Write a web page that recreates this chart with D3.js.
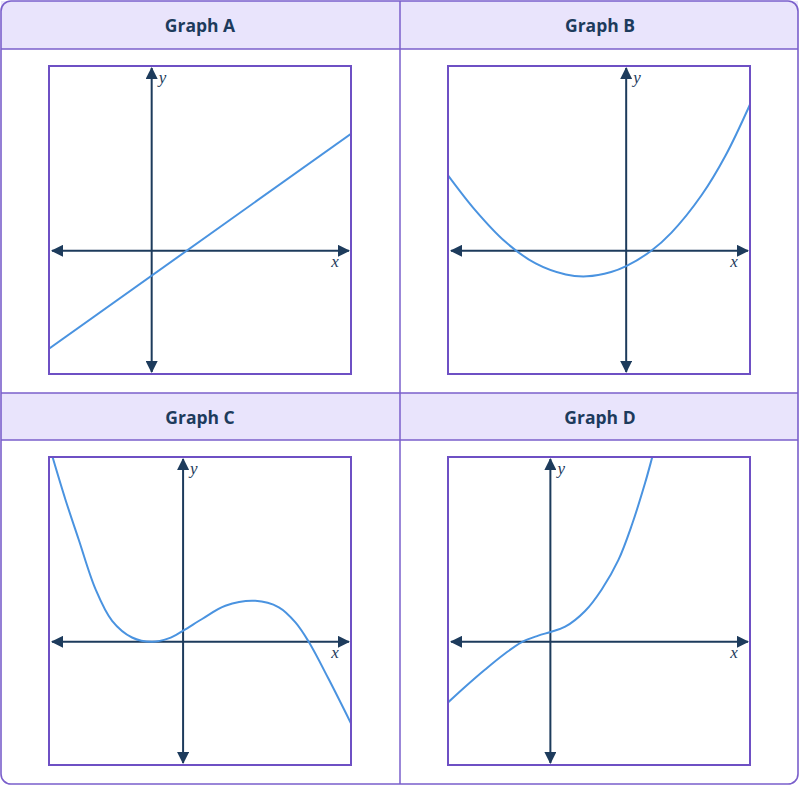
<!DOCTYPE html>
<html><head><meta charset="utf-8">
<script src="https://cdn.jsdelivr.net/npm/d3@7"></script>
<style>html,body{margin:0;padding:0;background:#fff;}svg{display:block;}</style>
</head><body>
<script>
// ---- data ----
const titles = ["Graph A", "Graph B", "Graph C", "Graph D"];
const yDomain = [-4, 6];
const xDomainA = [-3.4, 6.6];
const xDomainB = [-5.9, 4.1];
const xDomainC = [-4.44, 5.56];
const xDomainD = [-3.39, 6.61];

const curveAx = [-3.4, 6.6];
const curveAy = [-3.18, 3.8];

const curveBx = [-5.9, -5, -4, -3, -2, -1.3, -0.5, 0, 0.83, 1.5, 2.5, 3.3, 4.1];
const curveBy = [2.45, 1.32, 0.29, -0.41, -0.77, -0.83, -0.69, -0.5, 0, 0.59, 1.81, 3.11, 4.75];

const curveCx = [-4.32, -3.9, -3.46, -2.9, -2.35, -1.69, -1.03, -0.48, 0, 0.63, 1.4, 2.39, 3.17, 3.72, 4.16, 4.82, 5.57];
const curveCy = [5.99, 4.63, 3.33, 1.71, 0.68, 0.14, 0, 0.11, 0.36, 0.74, 1.17, 1.33, 1.12, 0.63, 0, -1.21, -2.67];

const curveDx = [-3.39, -2.82, -2.16, -1.5, -0.93, -0.4, 0, 0.49, 1.15, 1.7, 2.25, 2.7, 3.14, 3.38, 3.5];
const curveDy = [-1.97, -1.46, -0.9, -0.38, 0, 0.2, 0.32, 0.49, 1.0, 1.7, 2.65, 3.8, 5.17, 6.02, 6.45];

// ---- layout ----
const W = 799, H = 785;
const svg = d3.select("body").append("svg").attr("width", W).attr("height", H);

const purple = "#7a5fcb";
const boxPurple = "#6e50c4";
const lavender = "#e9e4fc";
const navy = "#1d3b5c";
const blue = "#4a93e0";

svg.append("rect").attr("x", 1).attr("y", 1).attr("width", 797).attr("height", 48).attr("fill", lavender);
svg.append("rect").attr("x", 1).attr("y", 393).attr("width", 797).attr("height", 47).attr("fill", lavender);
const outer = svg.append("rect").attr("x", 1).attr("y", 1).attr("width", 797).attr("height", 783)
  .attr("rx", 10).attr("fill", "none").attr("stroke", purple).attr("stroke-width", 1.6);
[49, 393, 440].forEach(y => svg.append("line").attr("x1", 1).attr("x2", 798).attr("y1", y).attr("y2", y)
  .attr("stroke", purple).attr("stroke-width", 1.5));
svg.append("line").attr("x1", 400).attr("x2", 400).attr("y1", 1).attr("y2", 784)
  .attr("stroke", purple).attr("stroke-width", 1.5);

const titlePos = [[200, 25], [600, 25], [200, 417], [600, 417]];
titles.forEach((t, i) => {
  svg.append("text").attr("x", titlePos[i][0]).attr("y", titlePos[i][1])
    .attr("text-anchor", "middle").attr("dominant-baseline", "central")
    .attr("font-family", "'Open Sans', Lato, sans-serif").attr("font-weight", 700)
    .attr("font-size", 17.5).attr("fill", navy).text(t);
});

svg.append("defs").html(`
<marker id="arr" viewBox="0 0 12 12" refX="11" refY="6" markerWidth="12" markerHeight="12" markerUnits="userSpaceOnUse" orient="auto-start-reverse">
<path d="M0,0 L12,6 L0,12 Z" fill="${navy}"/></marker>`);

const boxes = [
  {x0: 49, y0: 66, xd: xDomainA, cx: curveAx, cy: curveAy, id: "A"},
  {x0: 448, y0: 66, xd: xDomainB, cx: curveBx, cy: curveBy, id: "B"},
  {x0: 49, y0: 457, xd: xDomainC, cx: curveCx, cy: curveCy, id: "C"},
  {x0: 448, y0: 457, xd: xDomainD, cx: curveDx, cy: curveDy, id: "D"}
];
const bw = 302, bh = 308;

boxes.forEach(b => {
  const xs = d3.scaleLinear().domain(b.xd).range([b.x0, b.x0 + bw]);
  const ys = d3.scaleLinear().domain(yDomain).range([b.y0 + bh, b.y0]);
  const g = svg.append("g");
  g.append("rect").attr("x", b.x0).attr("y", b.y0).attr("width", bw).attr("height", bh)
    .attr("fill", "#fff");
  g.append("clipPath").attr("id", "clip" + b.id).append("rect")
    .attr("x", b.x0).attr("y", b.y0).attr("width", bw).attr("height", bh);

  g.append("line").attr("x1", xs(b.xd[0]) + 3).attr("x2", xs(b.xd[1]) - 2)
    .attr("y1", ys(0)).attr("y2", ys(0)).attr("stroke", navy).attr("stroke-width", 2)
    .attr("marker-start", "url(#arr)").attr("marker-end", "url(#arr)");
  g.append("line").attr("x1", xs(0)).attr("x2", xs(0))
    .attr("y1", ys(yDomain[1]) + 2).attr("y2", ys(yDomain[0]) - 2).attr("stroke", navy).attr("stroke-width", 2)
    .attr("marker-start", "url(#arr)").attr("marker-end", "url(#arr)");

  g.append("text").attr("x", xs(b.xd[1]) - 16).attr("y", ys(0) + 16)
    .attr("text-anchor", "middle").attr("font-family", "'Liberation Serif', 'DejaVu Serif', serif")
    .attr("font-style", "italic").attr("font-size", 17).attr("fill", navy).text("x");
  g.append("text").attr("x", xs(0) + 7).attr("y", ys(yDomain[1]) + 17)
    .attr("font-family", "'Liberation Serif', 'DejaVu Serif', serif")
    .attr("font-style", "italic").attr("font-size", 17).attr("fill", navy).text("y");

  const pts = b.cx.map((x, i) => [x, b.cy[i]]);
  const line = d3.line().x(d => xs(d[0])).y(d => ys(d[1]))
    .curve(pts.length > 2 ? d3.curveCatmullRom.alpha(0.5) : d3.curveLinear);
  g.append("path").attr("d", line(pts)).attr("fill", "none").attr("stroke", blue)
    .attr("stroke-width", 2).attr("clip-path", `url(#clip${b.id})`);

  g.append("rect").attr("x", b.x0).attr("y", b.y0).attr("width", bw).attr("height", bh)
    .attr("fill", "none").attr("stroke", boxPurple).attr("stroke-width", 2);
});
outer.raise();
</script>
</body></html>
